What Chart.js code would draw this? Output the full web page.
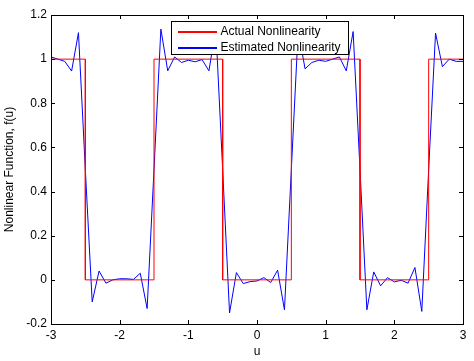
<!DOCTYPE html>
<html>
<head>
<meta charset="utf-8">
<script src="https://cdn.jsdelivr.net/npm/chart.js@4/dist/chart.umd.min.js"></script>
<style>
  html, body { margin: 0; padding: 0; background: #fff; }
  #wrap { width: 474px; height: 361px; }
</style>
</head>
<body>
<div id="wrap"><canvas id="chart" width="474" height="361"></canvas></div>
<script>
// actual nonlinearity (square wave corners)
const actualU = [-3, -2.5, -2.5, -1.5, -1.5, -0.5, -0.5, 0.5, 0.5, 1.5, 1.5, 2.5, 2.5, 3];
const actualF = [1, 1, 0, 0, 1, 1, 0, 0, 1, 1, 0, 0, 1, 1];

// estimated nonlinearity samples
const estU = [-3.0, -2.9, -2.8, -2.7, -2.6, -2.5, -2.4, -2.3, -2.2, -2.1,
              -2.0, -1.9, -1.8, -1.7, -1.6, -1.5, -1.4, -1.3, -1.2, -1.1,
              -1.0, -0.9, -0.8, -0.7, -0.6, -0.5, -0.4, -0.3, -0.2, -0.1,
              0.0, 0.1, 0.2, 0.3, 0.4, 0.5, 0.6, 0.7, 0.8, 0.9,
              1.0, 1.1, 1.2, 1.3, 1.4, 1.5, 1.6, 1.7, 1.8, 1.9,
              2.0, 2.1, 2.2, 2.3, 2.4, 2.5, 2.6, 2.7, 2.8, 2.9, 3.0];
const estF = [1.01, 1.00, 0.99, 0.946, 1.12, 0.5, -0.10, 0.04, -0.015, 0.0,
              0.005, 0.005, 0.002, 0.03, -0.13, 0.5, 1.136, 0.947, 1.01, 0.985,
              0.995, 0.988, 0.998, 0.947, 1.14, 0.5, -0.15, 0.033, -0.017, -0.008,
              -0.005, 0.01, -0.012, 0.044, -0.136, 0.5, 1.13, 0.956, 0.985, 0.995,
              0.99, 1.0, 1.01, 0.947, 1.125, 0.5, -0.136, 0.036, -0.027, 0.01,
              -0.009, -0.002, -0.015, 0.056, -0.143, 0.5, 1.118, 0.966, 1.0, 0.99, 0.99];

const xTicks = [-3, -2, -1, 0, 1, 2, 3];
const yTicks = [-0.2, 0, 0.2, 0.4, 0.6, 0.8, 1, 1.2];

const seriesNames = ['Actual Nonlinearity', 'Estimated Nonlinearity'];
const seriesColors = ['#ff0000', '#0000ff'];

const font = 'Liberation Sans, Arial, sans-serif';

// matlab style box, inward ticks and legend
const matlabAxes = {
  id: 'matlabAxes',
  afterDraw(chart) {
    const ctx = chart.ctx;
    const a = chart.chartArea;
    const xs = chart.scales.x, ys = chart.scales.y;
    const len = 4;
    ctx.save();
    ctx.strokeStyle = '#000';
    ctx.lineWidth = 1;
    ctx.strokeRect(Math.round(a.left) + 0.5, Math.round(a.top) + 0.5,
                   Math.round(a.right - a.left), Math.round(a.bottom - a.top));
    ctx.beginPath();
    xTicks.forEach(v => {
      const px = Math.round(xs.getPixelForValue(v)) + 0.5;
      ctx.moveTo(px, a.bottom); ctx.lineTo(px, a.bottom - len);
      ctx.moveTo(px, a.top); ctx.lineTo(px, a.top + len);
    });
    yTicks.forEach(v => {
      const py = Math.round(ys.getPixelForValue(v)) + 0.5;
      ctx.moveTo(a.left, py); ctx.lineTo(a.left + len, py);
      ctx.moveTo(a.right, py); ctx.lineTo(a.right - len, py);
    });
    ctx.stroke();

    // legend box
    const lx = Math.round(a.left + 120) + 0.5, ly = Math.round(a.top + 6) + 0.5;
    const lw = 177, lh = 33;
    ctx.fillStyle = '#fff';
    ctx.fillRect(lx, ly, lw, lh);
    ctx.strokeStyle = '#000';
    ctx.strokeRect(lx, ly, lw, lh);
    ctx.font = '12px ' + font;
    ctx.textBaseline = 'middle';
    ctx.textAlign = 'left';
    seriesNames.forEach((name, i) => {
      const ry = Math.round(ly + 9 + i * 16);
      ctx.fillStyle = seriesColors[i];
      ctx.fillRect(Math.round(lx + 6), ry, 39, 2);
      ctx.fillStyle = '#000';
      ctx.fillText(name, lx + 49, ry + 1);
    });
    ctx.restore();
  }
};

new Chart(document.getElementById('chart').getContext('2d'), {
  type: 'scatter',
  data: {
    datasets: [
      {
        label: seriesNames[0],
        data: actualU.map((u, i) => ({ x: u, y: actualF[i] })),
        showLine: true,
        borderColor: seriesColors[0],
        borderWidth: 1,
        pointRadius: 0,
        tension: 0
      },
      {
        label: seriesNames[1],
        data: estU.map((u, i) => ({ x: u, y: estF[i] })),
        showLine: true,
        borderColor: seriesColors[1],
        borderWidth: 1,
        pointRadius: 0,
        tension: 0
      }
    ]
  },
  options: {
    responsive: false,
    animation: false,
    layout: { padding: { top: 15, right: 11, left: 0, bottom: 0 } },
    plugins: { legend: { display: false }, tooltip: { enabled: false } },
    scales: {
      x: {
        type: 'linear',
        min: -3, max: 3,
        afterBuildTicks: s => { s.ticks = xTicks.map(v => ({ value: v })); },
        afterFit: s => { s.height = 37; },
        grid: { display: false, drawTicks: false },
        border: { display: false },
        ticks: { color: '#000', font: { family: font, size: 12 }, padding: 4, maxRotation: 0,
                 callback: v => String(v) },
        title: { display: true, text: 'u', color: '#000', font: { family: font, size: 12 },
                 padding: { top: 0, bottom: 2 } }
      },
      y: {
        min: -0.2, max: 1.2,
        afterBuildTicks: s => { s.ticks = yTicks.map(v => ({ value: v })); },
        afterFit: s => { s.width = 51; },
        grid: { display: false, drawTicks: false },
        border: { display: false },
        ticks: { color: '#000', font: { family: font, size: 12 }, padding: 4,
                 callback: v => String(Math.round(v * 10) / 10) },
        title: { display: true, text: 'Nonlinear Function, f(u)', color: '#000',
                 font: { family: font, size: 12 }, padding: { top: 2, bottom: 0 } }
      }
    }
  },
  plugins: [matlabAxes]
});
</script>
</body>
</html>
